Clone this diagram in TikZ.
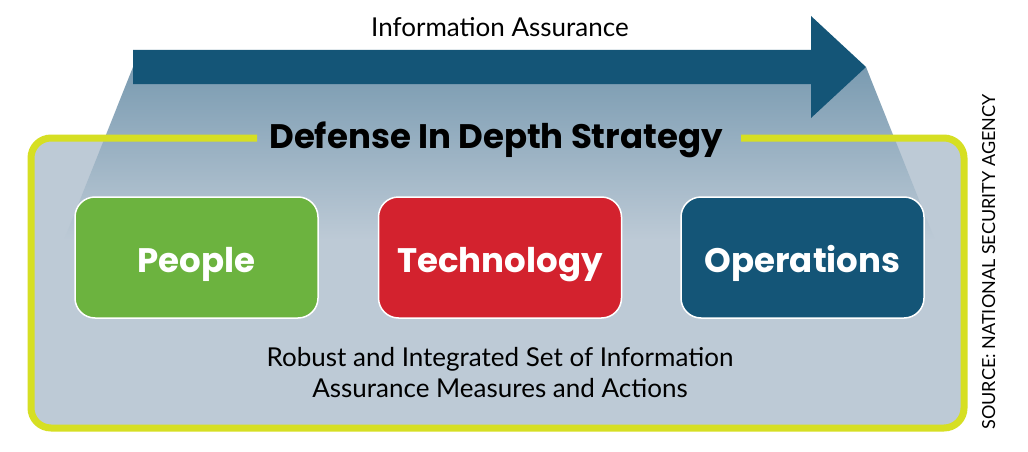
\documentclass[tikz,border=0pt]{standalone}
\usepackage{fontspec}
\setmainfont{Lato}
\newfontfamily\geofont{Poppins}
\usetikzlibrary{positioning}
\definecolor{iablue}{HTML}{145577}
\definecolor{iagreen}{HTML}{6CB33F}
\definecolor{iared}{HTML}{D3222E}
\definecolor{iayellow}{HTML}{D6DF23}
\definecolor{iagrey}{HTML}{BDCAD6}
\definecolor{iafade}{HTML}{7A9BB1}
\begin{document}
\begin{tikzpicture}[x=1pt,y=-1pt,node distance=59pt,
  pillar/.style={draw=white,line width=1.5pt,rounded corners=20pt,minimum width=243pt,minimum height=121pt,text height=29pt,text depth=0pt,text=white,font=\geofont\bfseries\fontsize{34}{40}\selectfont},
  caption/.style={anchor=base,font=\fontsize{26}{31}\selectfont}]
  \useasboundingbox (0,0) rectangle (1028,452);
  \fill[white] (0,0) rectangle (1028,452);

  % panel and fading band
  \fill[iagrey,rounded corners=20pt] (31,138) rectangle (964,428);
  \shade[top color=iafade,bottom color=iagrey] (133,67) -- (866,67) -- (935,240) -- (64,240) -- cycle;
  \fill[iablue] (133,50) -- (811,50) -- (811,16) -- (866,67) -- (811,118) -- (811,84) -- (133,84) -- cycle;
  \draw[iayellow,line width=7pt,rounded corners=20pt] (257,138) -| (31,428) -| (964,138) -- (741,138);

  \node[caption] (assurance) at (500,37) {Information Assurance};
  \node[anchor=base,font=\geofont\bfseries\fontsize{34}{40}\selectfont] (strategy) at (496,148) {Defense In Depth Strategy};

  \node[pillar,fill=iagreen] (people) at (196.5,257.5) {People};
  \node[pillar,fill=iared] (technology) [right=of people] {Technology};
  \node[pillar,fill=iablue] (operations) [right=58pt of technology] {Operations};

  \node[caption] (measures) at (500,366) {Robust and Integrated Set of Information};
  \node[caption] (actions) at (500,397) {Assurance Measures and Actions};

  \node[anchor=base,rotate=90,font=\fontsize{18}{20}\selectfont] (source) at (995,262) {SOURCE: NATIONAL SECURITY AGENCY};
\end{tikzpicture}
\end{document}
